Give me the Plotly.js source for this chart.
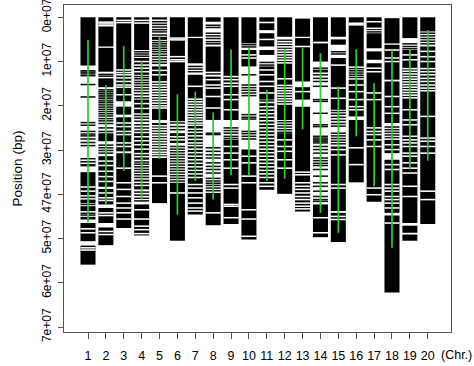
<!DOCTYPE html>
<html><head><meta charset="utf-8">
<script src="https://cdn.plot.ly/plotly-3.0.1.min.js"></script>
<style>html,body{margin:0;padding:0;background:#fff}#plot{width:474px;height:366px}</style>
</head><body><div id="plot"></div>
<script>
// chromosome numbers
const chromosomes = [1,2,3,4,5,6,7,8,9,10,11,12,13,14,15,16,17,18,19,20];
// green segment start / end (Mb)
const greenStart = [5.1,15.3,6.5,9.9,4.4,17.4,16.8,21.5,7.3,7.0,16.4,7.2,6.9,8.1,15.6,7.2,14.9,7.4,7.4,2.9];
const greenEnd   = [46.4,42.4,34.7,41.2,32.0,44.6,37.0,41.2,35.7,35.7,37.0,36.5,25.3,44.2,48.7,26.9,38.2,52.1,34.4,32.4];
// dense marker blocks, [start,end] pairs (Mb)
const blocks = [
 [0,10.9, 31.8,33.7, 35.0,40.2, 41.2,42.0, 42.7,43.8, 45.1,45.7, 46.5,50.6, 51.6,55.9],
 [0,6.6, 6.9,12.3, 13.8,15.8, 26.2,28.0, 31.4,38.3, 38.8,42.3, 43.1,46.5, 47.5,51.5],
 [0,19.0, 20.2,22.0, 22.6,30.3, 30.7,47.6],
 [0,7.4, 9.2,13.0, 18.6,21.7, 26.2,32.2, 36.7,38.9, 42.3,49.3],
 [0,0.5, 4.4,5.1, 11.1,23.2, 23.9,31.4, 31.8,42.0],
 [0,23.5, 26.2,28.4, 37.4,50.5],
 [0,4.4, 4.7,10.4, 13.0,44.6],
 [0,1.0, 6.6,12.3, 13.4,23.2, 39.7,47.0],
 [0,23.2, 27.7,46.7],
 [0,5.9, 7.4,11.1, 29.9,50.2],
 [0,1.0, 1.35,2.9, 3.6,6.6, 7.4,8.5, 11.1,18.6, 19.4,39.0],
 [0,4.4, 5.0,23.2, 26.2,39.9],
 [0.3,4.4, 4.7,14.5, 15.8,18.6, 20.2,43.9],
 [0,5.5, 5.9,10.0, 42.3,49.7],
 [0,4.4, 5.0,6.2, 9.2,20.9, 29.2,43.8, 44.2,50.8],
 [0,11.1, 14.1,22.4, 23.2,37.3],
 [0,2.9, 3.6,7.0, 7.7,9.6, 10.4,41.7],
 [0.2,5.9, 6.2,14.1, 14.5,23.9, 27.7,30.7, 32.2,44.2, 44.8,62.2],
 [0,4.7, 7.4,46.5, 47.1,48.7, 49.1,50.5],
 [0,3.2, 6.6,46.7]
];
// thin marker-free gaps inside blocks (Mb)
const gaps = [
 [32.3,33.0,38.35,39.3,47.8,48.7,52.1,52.6],
 [1.1,1.5,1.9,32.5,33.5,34.8,36.0,37.1,39.7,40.8,41.4,44.2,44.8,48.4,49.1],
 [0.7,1.2,11.9,12.5,13.0,13.7,14.5,15.3,15.8,17.5,23.9,24.7,25.8,26.5,28.4,29.2,34.1,37.4,38.9,40.5,42.0,43.1,44.2,45.6],
 [0.7,1.3,10.0,10.8,11.5,12.3,19.5,20.6,27.0,27.9,28.8,29.8,30.8,31.5,37.3,38.0,43.5,45.6,47.2,48.0,48.9],
 [12.0,13.0,14.6,15.2,15.8,16.4,17.0,17.6,18.2,18.8,19.4,20.0,20.5,24.5,25.1,25.7,26.3,26.9,27.5,28.1,28.7,29.3,29.9,30.5,31.0,35.9,37.4],
 [4.7,5.1,8.9,9.6,10.0,27.0,27.7,39.7],
 [15.6,18.5,19.1,19.7,20.3,20.9,21.5,22.1,22.7,23.3,23.9,24.4,25.3,26.0,26.8,27.6,28.4,29.0,29.8,30.6,31.4,32.2,33.0,33.8,34.6,35.4,36.2,37.8,38.6,39.7,40.8,42.0,43.1,43.8],
 [14.1,15.3,16.0,17.9,20.5,44.2],
 [13.4,14.1,14.9,15.6,17.5,18.6,20.9,29.2,30.7,32.2,34.1,37.8,38.6,42.3,42.7,45.3],
 [8.5,9.2,31.4,32.9,35.9,37.4,43.5,45.6,49.5],
 [5.0,11.9,13.0,14.5,15.6,17.1,20.2,21.0,21.8,22.6,23.4,24.2,25.0,25.8,26.6,27.4,28.2,29.0,29.8,30.6,31.4,32.2,33.0,33.8,34.6,35.4,36.2,37.4,38.2],
 [5.5,6.1,6.7,7.3,7.9,8.5,9.1,9.7,10.3,13.9,15.4,16.0,16.6,17.2,17.8,18.4,19.0,19.6,27.7,29.2,30.3,32.2,34.1],
 [6.6,16.8,35.0,35.6,37.4,38.2,38.9,39.7,40.5,41.2,42.0,42.7,43.3],
 [45.3,48.7],
 [10.8,16.0,18.3,29.9,31.1,37.8,38.6,45.0,45.7],
 [1.35,1.7,15.3,16.8,18.6,20.2,20.9,29.5,33.3],
 [1.0,2.5,11.5,12.3,17.1,18.6,25.0,25.8,26.5,27.7,29.2,38.6,40.1],
 [7.4,9.2,10.0,17.9,20.2,21.7,28.8,29.9,33.3,34.4,37.8,38.6,39.3,40.5,41.2,42.0,43.1,46.5],
 [8.5,9.6,11.6,12.2,12.8,13.4,14.0,14.6,15.2,15.8,16.4,17.0,17.6,18.2,20.9,23.2,24.3,26.9,27.7,28.4,29.2,30.7,31.4,32.9,34.1,35.2,38.2,40.5],
 [7.7,8.9,10.0,11.6,12.3,13.0,13.8,14.5,15.3,16.0,16.6,22.4,27.3,28.0,29.2,30.7,39.3,41.2]
];
// isolated single markers in sparse regions (Mb)
const markers = [
 [12.1,12.4,12.8,13.2,15.2,18.0,23.8,24.4,25.8,26.4,26.8,27.5,28.3,29.0,40.7,42.3,44.3,44.7],
 [12.9,13.3,16.4,16.8,17.2,17.6,18.0,18.4,18.9,19.3,19.8,20.3,20.8,21.3,21.8,22.3,22.9,23.4,24.0,25.0,25.8,28.9,29.5,30.1,30.7],
 [],
 [7.8,8.3,8.8,13.4,13.9,14.5,15.0,15.6,16.2,16.8,17.5,18.2,22.2,22.8,23.5,24.3,25.0,25.7,32.7,33.2,33.8,34.4,35.0,35.6,36.2,39.5,40.2,40.9,41.5],
 [1.0,1.6,2.2,2.8,3.3,4.0,5.5,6.0,6.5,7.0,7.5,8.0,8.6,9.2,9.8,10.4],
 [23.9,24.7,25.4,29.2,29.8,30.4,31.0,31.6,32.2,32.8,33.4,34.0,34.6,35.2,35.8,36.4,37.0],
 [11.1,11.7,12.3],
 [1.8,2.3,3.6,4.2,4.8,5.5,6.0,12.8,26.2,26.5,29.5,30.3,31.1,31.8,32.9,33.7,34.4,35.2,36.4,37.0,37.5,38.0,38.6,39.2],
 [25.0,25.6,26.2,26.9,27.4],
 [6.2,6.7,13.0,15.3,15.9,16.5,17.1,17.7,22.0,22.6,23.0,25.8,26.3,26.9,27.5],
 [10.2,10.8,18.9],
 [23.6,24.2,24.8,25.4,26.0],
 [],
 [11.5,12.0,12.3,13.0,13.8,14.5,15.6,18.6,19.0,21.7,24.3,24.7,26.9,27.3,27.7,28.0,28.4,29.2,29.9,30.7,31.8,32.4,33.0,33.5,34.4,35.9,37.4,38.2,39.3,40.5,41.2,41.6],
 [7.8,8.3,21.3,21.9,22.6,23.3,24.0,24.6,26.2,26.8,27.4,28.0,28.6],
 [11.6,12.1,12.6,13.1,13.6],
 [3.3],
 [24.8,25.4,26.0,26.6,27.2],
 [6.0,6.6,7.1],
 [3.6,4.2,4.8,5.4,6.0]
];
const yTickVals = [0,1e7,2e7,3e7,4e7,5e7,6e7,7e7];
const yTickText = ['0e+07','1e+07','2e+07','3e+07','47e+07','5e+07','6e+07','7e+07'];

const MB = 1e6, BAR_W = 0.84, LINE_H = 0.35;
function collect(kind) {
  const x = [], base = [], h = [];
  chromosomes.forEach((c, i) => {
    if (kind === 'block') {
      const b = blocks[i];
      for (let k = 0; k < b.length; k += 2) { x.push(c); base.push(b[k]*MB); h.push((b[k+1]-b[k])*MB); }
    } else {
      const arr = kind === 'gap' ? gaps[i] : markers[i];
      arr.forEach(p => { x.push(c); base.push((p - LINE_H/2)*MB); h.push(LINE_H*MB); });
    }
  });
  return {x, base, h};
}
function barTrace(d, color) {
  return {type:'bar', x:d.x, y:d.h, base:d.base, width:BAR_W, marker:{color:color, line:{width:0}},
          hoverinfo:'skip', showlegend:false};
}
const gx = [], gy = [];
chromosomes.forEach((c, i) => { gx.push(c, c, null); gy.push(greenStart[i]*MB, greenEnd[i]*MB, null); });

const data = [
  barTrace(collect('block'), '#000000'),
  barTrace(collect('marker'), '#111111'),
  barTrace(collect('gap'), '#ffffff'),
  {type:'scatter', mode:'lines', x:gx, y:gy, line:{color:'#2fcc2f', width:1.7}, hoverinfo:'skip', showlegend:false}
];
const font = 'Liberation Sans, Arial, sans-serif';
const layout = {
  width:474, height:366, margin:{l:64, r:23, t:5, b:34},
  paper_bgcolor:'#ffffff', plot_bgcolor:'#ffffff',
  barmode:'overlay', showlegend:false,
  font:{family:font, color:'#000'},
  xaxis:{range:[-0.342, 21.3], tickvals:chromosomes, ticktext:chromosomes.map(String),
         ticks:'outside', ticklen:6, tickcolor:'#555', showline:true, mirror:true, linecolor:'#555', linewidth:1,
         showgrid:false, zeroline:false, tickfont:{family:font, size:12.5, color:'#000'}, ticklabelstandoff:6, fixedrange:true},
  yaxis:{range:[7.113e7, -0.278e7], tickvals:yTickVals, ticktext:yTickText, tickangle:-90, ticklabeloverflow:'allow',
         ticks:'outside', ticklen:5, tickcolor:'#555', showline:true, mirror:true, linecolor:'#555', linewidth:1,
         showgrid:false, zeroline:false, tickfont:{family:font, size:12, color:'#000'}, ticklabelstandoff:2,
         title:{text:'Position (bp)', font:{family:font, size:13.5, color:'#000'}, standoff:14}, automargin:false},
  annotations:[{text:'(Chr.)', xref:'paper', yref:'paper', x:1.013, y:-0.07, xanchor:'center', yanchor:'middle',
                showarrow:false, font:{family:font, size:12.5, color:'#000'}}]
};
Plotly.newPlot('plot', data, layout, {displayModeBar:false, staticPlot:true});
</script>
</body></html>
